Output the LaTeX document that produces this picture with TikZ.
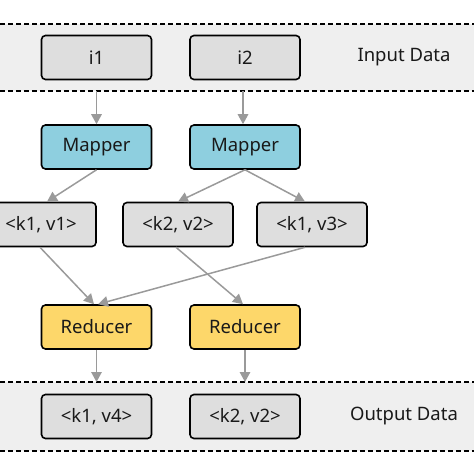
\documentclass[tikz,border=0pt]{standalone}
\usepackage{fontspec}
\setmainfont{Noto Sans}
\usetikzlibrary{arrows.meta}
\definecolor{bandgray}{HTML}{EFEFEF}
\definecolor{boxgray}{HTML}{DEDEDE}
\definecolor{mapblue}{HTML}{8ECFDF}
\definecolor{redyellow}{HTML}{FDD76A}
\definecolor{arrgray}{HTML}{9A9A9A}
\tikzset{
  box/.style={draw=black, line width=1.6pt, rounded corners=4pt, minimum width=110pt, minimum height=44pt, inner sep=0pt, font=\fontsize{18.5}{22}\selectfont, text=black!90},
  databox/.style={box, fill=boxgray},
  mapbox/.style={box, fill=mapblue},
  redbox/.style={box, fill=redyellow},
  flow/.style={draw=arrgray, line width=1.5pt, -{Triangle[length=10pt,width=10.5pt]}},
  sep/.style={draw=black, line width=1.4pt, dash pattern=on 4.5pt off 3.5pt},
  lbl/.style={font=\fontsize{18.5}{22}\selectfont, text=black!90}
}
\begin{document}
\begin{tikzpicture}[x=1pt,y=-1pt]
\useasboundingbox (0,0) rectangle (474,474);
\begin{scope}
\clip (0,0) rectangle (474,474);
% bands
\fill[bandgray] (0,24) rectangle (474,91);
\fill[bandgray] (0,382) rectangle (474,451);
\draw[sep] (0,24) -- (474,24);
\draw[sep] (0,91) -- (474,91);
\draw[sep] (0,382) -- (474,382);
\draw[sep] (0,451) -- (474,451);
% nodes
\node[databox] (i1) at (96.5,57.5) {i1};
\node[databox] (i2) at (245,57.5) {i2};
\node[lbl] (inlbl) at (404,57) {Input Data};
\node[mapbox] (m1) at (96.5,147) {Mapper};
\node[mapbox] (m2) at (245,147) {Mapper};
\node[databox] (kv1) at (41,224.5) {<k1, v1>};
\node[databox] (kv2) at (178,224.5) {<k2, v2>};
\node[databox] (kv3) at (312,224.5) {<k1, v3>};
\node[redbox] (r1) at (96.5,327) {Reducer};
\node[redbox] (r2) at (245,327) {Reducer};
\node[databox] (o1) at (96.5,416.5) {<k1, v4>};
\node[databox] (o2) at (245,416.5) {<k2, v2>};
\node[lbl] (outlbl) at (404,416) {Output Data};
% connectors
\coordinate (s1) at (96.5,91);
\coordinate (s2) at (243,91);
\coordinate (e1) at (96.5,382);
\coordinate (e2) at (245,382);
\draw[flow] (s1) -- (m1.north);
\draw[flow] (s2) -- (m2.north -| s2);
\draw[flow] (m1.south) -- (kv1.north -| 47,0);
\draw[flow] (m2.south) -- (kv2.north);
\draw[flow] (m2.south) -- (kv3.north -| 305,0);
\draw[flow] (kv1.south -| 40,0) -- (r1.north -| 94,0);
\draw[flow] (kv2.south -| 176,0) -- (r2.north -| 243,0);
\draw[flow] (kv3.south -| 305,0) -- (r1.north -| 98,0);
\draw[flow] (r1.south) -- (e1);
\draw[flow] (r2.south) -- (e2);
\end{scope}
\end{tikzpicture}
\end{document}
